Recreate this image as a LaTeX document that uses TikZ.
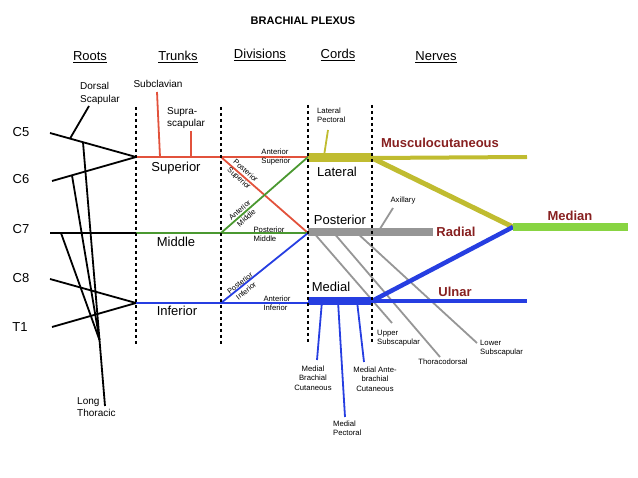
\documentclass[tikz,border=0pt]{standalone}
\usepackage{fontspec}
\setmainfont{Liberation Sans}
\definecolor{tred}{RGB}{226,82,60}
\definecolor{tgreen}{RGB}{74,152,48}
\definecolor{tblue}{RGB}{38,62,225}
\definecolor{tolive}{RGB}{192,188,48}
\definecolor{tgray}{RGB}{150,150,150}
\definecolor{tlime}{RGB}{136,212,66}
\definecolor{tdark}{RGB}{135,32,32}
\begin{document}
\begin{tikzpicture}[x=1pt,y=-1pt,
  big/.style={font=\fontsize{13}{15}\selectfont, inner sep=0pt},
  title/.style={font=\bfseries\fontsize{11}{13}\selectfont, inner sep=0pt},
  small/.style={font=\fontsize{10}{12.5}\selectfont, inner sep=0pt, align=left},
  tiny/.style={font=\fontsize{7.7}{9.3}\selectfont, inner sep=0pt, align=left},
  tinyc/.style={font=\fontsize{7.7}{9.3}\selectfont, inner sep=0pt, align=center},
  tinyr/.style={font=\fontsize{7.5}{10}\selectfont, inner sep=0pt, align=center},
  nerve/.style={font=\bfseries\fontsize{13}{15}\selectfont, text=tdark, inner sep=0pt},
  rootline/.style={black, line width=1.8pt},
  thin/.style={line width=1.8pt},
  sepline/.style={black, line width=2.3pt, dash pattern=on 3.5pt off 2.5pt},
]
\useasboundingbox (0,0) rectangle (638,478);

% ---------- headings ----------
\node[title] (ttl) at (303,21) {BRACHIAL PLEXUS};
\node[big] (hroots) at (90,57) {\underline{Roots}};
\node[big] (htrunks) at (178,57) {\underline{Trunks}};
\node[big] (hdiv) at (260,55) {\underline{Divisions}};
\node[big] (hcords) at (338,55) {\underline{Cords}};
\node[big] (hnerves) at (436,57) {\underline{Nerves}};

% ---------- coordinates ----------
\coordinate (c5) at (50,133);
\coordinate (c6) at (52,181);
\coordinate (c7) at (50,233);
\coordinate (c8) at (50,279);
\coordinate (t1) at (52,327);
\coordinate (sup0) at (136,157);
\coordinate (mid0) at (136,233);
\coordinate (inf0) at (136,303);
\coordinate (sup1) at (221,157);
\coordinate (mid1) at (221,233);
\coordinate (inf1) at (221,303);
\coordinate (lat0) at (308,157);
\coordinate (pos0) at (308,233);
\coordinate (med0) at (308,303);
\coordinate (latB) at (308,158);
\coordinate (latE) at (372,158);
\coordinate (posB) at (308,232);
\coordinate (posE) at (433,232);
\coordinate (medB) at (308,301);
\coordinate (medE) at (372,301);
\coordinate (musE) at (527,157);
\coordinate (medJ) at (513,227);
\coordinate (mdnE) at (628,227);
\coordinate (ulnE) at (527,301);

% ---------- root labels ----------
\node[big] (lc5) at (21,132) {C5};
\node[big] (lc6) at (21,179) {C6};
\node[big] (lc7) at (21,229) {C7};
\node[big] (lc8) at (21,278) {C8};
\node[big] (lt1) at (20,327) {T1};

% ---------- roots ----------
\draw[rootline] (c5) -- (sup0);
\draw[rootline] (c6) -- (sup0);
\draw[rootline] (c7) -- (mid0);
\draw[rootline] (c8) -- (inf0);
\draw[rootline] (t1) -- (inf0);

% dorsal scapular
\coordinate (ds0) at (70,138.6);
\coordinate (ds1) at (89,106);
\draw[rootline] (ds0) -- (ds1);
\node[small, anchor=west] (lds) at (80,93.5) {Dorsal\\Scapular};

% long thoracic
\coordinate (lt5) at (83,142.2);
\coordinate (lt6) at (72,175.3);
\coordinate (lt7) at (61,233);
\coordinate (ltJ) at (99.5,340);
\coordinate (ltE) at (105,406);
\draw[rootline] (lt5) -- (ltE);
\draw[rootline] (lt6) -- (ltJ);
\draw[rootline] (lt7) -- (ltJ);
\node[small, anchor=west] (llt) at (77,407) {Long\\Thoracic};

% ---------- trunks ----------
\draw[thin, tred] (sup0) -- (sup1);
\draw[thin, tgreen] (mid0) -- (mid1);
\draw[thin, tblue] (inf0) -- (inf1);
\coordinate (sc0) at (160,157);
\coordinate (sc1) at (157,92);
\draw[thin, tred] (sc0) -- (sc1);
\node[small] (lsc) at (158,84) {Subclavian};
\coordinate (ss0) at (191,157);
\coordinate (ss1) at (191,131);
\draw[thin, tred] (ss0) -- (ss1);
\node[small, anchor=west] (lss) at (167,118) {Supra-\\scapular};
\node[big] (lsup) at (176,168) {Superior};
\node[big] (lmid) at (176,242) {Middle};
\node[big] (linf) at (177,311) {Inferior};

% ---------- divisions ----------
\draw[thin, tred] (sup1) -- (lat0);
\draw[thin, tred] (sup1) -- (pos0);
\draw[thin, tgreen] (mid1) -- (lat0);
\draw[thin, tgreen] (mid1) -- (pos0);
\draw[thin, tblue] (inf1) -- (pos0);
\draw[thin, tblue] (inf1) -- (med0);
\node[tiny] (las) at (276,157) {Anterior\\Superior};
\node[tiny] (lpm) at (269,234) {Posterior\\Middle};
\node[tiny] (lai) at (277,303) {Anterior\\Inferior};
\node[tinyr, rotate=-41.5] (lps) at (242,175) {Posterior\\Superior};
\node[tinyr, rotate=41.5] (lam) at (243,214) {Anterior\\Middle};
\node[tinyr, rotate=38.4] (lpi) at (243,287) {Posterior\\Inferior};

% ---------- posterior cord branches (gray) ----------
\coordinate (ax0) at (378,232);
\coordinate (ax1) at (393,208);
\draw[thin, tgray] (ax0) -- (ax1);
\node[tinyc] (lax) at (403,201) {Axillary};
\coordinate (us0) at (313,232);
\coordinate (us1) at (392,323);
\coordinate (td0) at (333,232);
\coordinate (td1) at (440,357);
\coordinate (ls0) at (356,232);
\coordinate (ls1) at (477,343);
\draw[thin, tgray] (us0) -- (us1);
\draw[thin, tgray] (td0) -- (td1);
\draw[thin, tgray] (ls0) -- (ls1);
\node[tiny, anchor=west] (lus) at (377,338) {Upper\\Subscapular};
\node[tinyc] (ltd) at (443,362) {Thoracodorsal};
\node[tiny, anchor=west] (lls) at (480,348) {Lower\\Subscapular};

% ---------- lateral cord branch ----------
\coordinate (lp0) at (324,156);
\coordinate (lp1) at (328,130);
\draw[thin, tolive] (lp0) -- (lp1);
\node[tiny, anchor=west] (llp) at (317,115.5) {Lateral\\Pectoral};

% ---------- medial cord branches ----------
\coordinate (mb0) at (322,301);
\coordinate (mb1) at (317,360);
\coordinate (mp0) at (338,301);
\coordinate (mp1) at (345,417);
\coordinate (ma0) at (357,301);
\coordinate (ma1) at (364,362);
\draw[thin, tblue] (mb0) -- (mb1);
\draw[thin, tblue] (mp0) -- (mp1);
\draw[thin, tblue] (ma0) -- (ma1);
\node[tinyc] (lmb) at (313,378) {Medial\\Brachial\\Cutaneous};
\node[tiny, anchor=west] (lmp) at (333,428.5) {Medial\\Pectoral};
\node[tinyc] (lma) at (375,379) {Medial Ante-\\brachial\\Cutaneous};

% ---------- nerves ----------
\draw[tolive, line width=4pt] (latE) -- (musE);
\draw[tolive, line width=5pt] (latE) -- (medJ);
\draw[tblue, line width=4.5pt] (medE) -- (medJ);
\draw[tblue, line width=4pt] (medE) -- (ulnE);
\draw[tlime, line width=8pt] (medJ) -- (mdnE);

% ---------- cords (bars) ----------
\draw[tolive, line width=9pt] (latB) -- (latE);
\draw[tgray, line width=8pt] (posB) -- (posE);
\draw[tblue, line width=8pt] (medB) -- (medE);
\node[big] (llat) at (337,172) {Lateral};
\node[big] (lpos) at (340,220) {Posterior};
\node[big] (lmed) at (331,287) {Medial};

% ---------- nerve labels ----------
\node[nerve] (nmus) at (440,143) {Musculocutaneous};
\node[nerve] (nmdn) at (570,216) {Median};
\node[nerve] (nrad) at (456,232) {Radial};
\node[nerve] (nuln) at (455,292) {Ulnar};

% ---------- separators ----------
\coordinate (s1t) at (136,107); \coordinate (s1b) at (136,345);
\coordinate (s2t) at (221,107); \coordinate (s2b) at (221,345);
\coordinate (s3t) at (308,105); \coordinate (s3b) at (308,343);
\coordinate (s4t) at (372,105); \coordinate (s4b) at (372,343);
\draw[sepline] (s1t) -- (s1b);
\draw[sepline] (s2t) -- (s2b);
\draw[sepline] (s3t) -- (s3b);
\draw[sepline] (s4t) -- (s4b);
\end{tikzpicture}
\end{document}
